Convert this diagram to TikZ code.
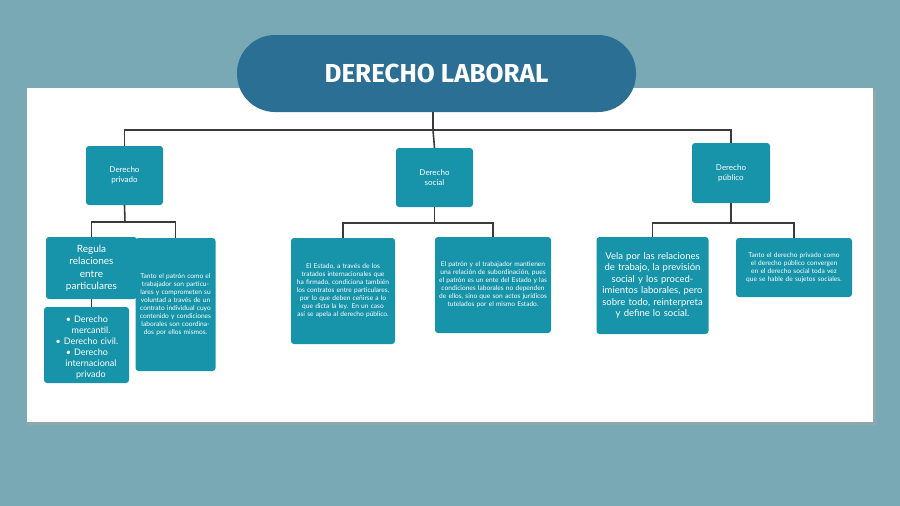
\documentclass[tikz,border=0pt]{standalone}
\usepackage{fontspec}
\setmainfont{Lato}
\newfontfamily\titlefont{Fira Sans}
\usetikzlibrary{positioning}
\definecolor{bgc}{HTML}{78A9B5}
\definecolor{pill}{HTML}{2C6F94}
\definecolor{boxc}{HTML}{1794AA}
\definecolor{linec}{HTML}{3A3A3A}
\tikzset{
 bx/.style={fill=boxc,rounded corners=3pt,text=white,align=center,inner sep=2pt},
 sm/.style={bx,font=\fontsize{6.6}{8}\selectfont},
 md/.style={bx,font=\fontsize{9.5}{11.5}\selectfont},
 cn/.style={draw=linec,line width=1.6pt}
}
\begin{document}
\begin{tikzpicture}[x=1pt,y=-1pt]
\useasboundingbox (0,0) rectangle (900,506);
\fill[bgc] (0,0) rectangle (900,506);
\fill[black!35,opacity=.5] (29,90) rectangle (876,425);
\fill[white] (27,88) rectangle (873,422);
% boxes
\node[bx,minimum width=77,minimum height=59,font=\fontsize{8}{10}\selectfont] (priv) at (124.5,175.5) {Derecho\\privado};
\node[bx,minimum width=77,minimum height=59,font=\fontsize{8}{10}\selectfont] (soc) at (434.5,177.5) {Derecho\\social};
\node[bx,minimum width=78,minimum height=60,font=\fontsize{8}{10}\selectfont] (pub) at (731,173) {Derecho\\público};
\node[md,minimum width=91,minimum height=62,font=\fontsize{10}{12.5}\selectfont] (reg) at (91.5,268) {Regula\\relaciones\\entre\\particulares};
\node[md,minimum width=85,minimum height=76,text width=81,align=left,font=\fontsize{9}{11}\selectfont] (lst) at (86.5,345) {%
\begin{list}{\textbullet}{\leftmargin=9pt\labelwidth=6pt\labelsep=3pt\itemsep=0pt\parsep=0pt\topsep=0pt}
\centering
\item Derecho mercantil.
\item Derecho civil.
\item Derecho internacional privado
\end{list}};
\node[sm,minimum width=79,minimum height=133,text width=76] (tp) at (175.5,304.5) {Tanto el patrón como el trabajador son particulares y comprometen su voluntad a través de un contrato individual cuyo contenido y condiciones laborales son coordinados por ellos mismos.};
\node[sm,minimum width=104,minimum height=106,text width=98] (est) at (343,291) {El Estado, a través de los tratados internacionales que ha firmado, condiciona también los contratos entre particulares, por lo que deben ceñirse a lo que dicta la ley. En un caso así se apela al derecho público.};
\node[sm,minimum width=116,minimum height=96,text width=110] (pat) at (493,285) {El patrón y el trabajador mantienen una relación de subordinación, pues el patrón es un ente del Estado y las condiciones laborales no dependen de ellos, sino que son actos jurídicos tutelados por el mismo Estado.};
\node[md,minimum width=111,minimum height=97,text width=108] (vel) at (652.5,285.5) {Vela por las relaciones de trabajo, la previsión social y los procedimientos laborales, pero sobre todo, reinterpreta y define lo social.};
\node[sm,minimum width=116,minimum height=59,text width=110] (tdp) at (794,267.5) {Tanto el derecho privado como el derecho público convergen en el derecho social toda vez que se hable de sujetos sociales.};
% title
\node[fill=pill,rounded corners=38pt,minimum width=399,minimum height=77,text=white,font=\titlefont\bfseries\fontsize{26}{30}\selectfont] (title) at (436.5,73.5) {DERECHO LABORAL};
% connectors
\coordinate (j0) at (433,130);
\draw[cn] (433,112) -- (j0);
\draw[cn] (priv.north) |- (j0) -| (pub.north);
\draw[cn] (j0) -- (soc.north);
\coordinate (j1) at (125,222);
\draw[cn] (priv.south) -- (j1);
\draw[cn] (reg.north) |- (j1) -| (tp.north);
\coordinate (j2) at (434.5,223);
\draw[cn] (soc.south) -- (j2);
\draw[cn] (est.north) |- (j2) -| (pat.north);
\coordinate (j3) at (731,223);
\draw[cn] (pub.south) -- (j3);
\draw[cn] (vel.north) |- (j3) -| (tdp.north);
\draw[cn] (reg.south) -- (lst.north-|reg.south);
\end{tikzpicture}
\end{document}
